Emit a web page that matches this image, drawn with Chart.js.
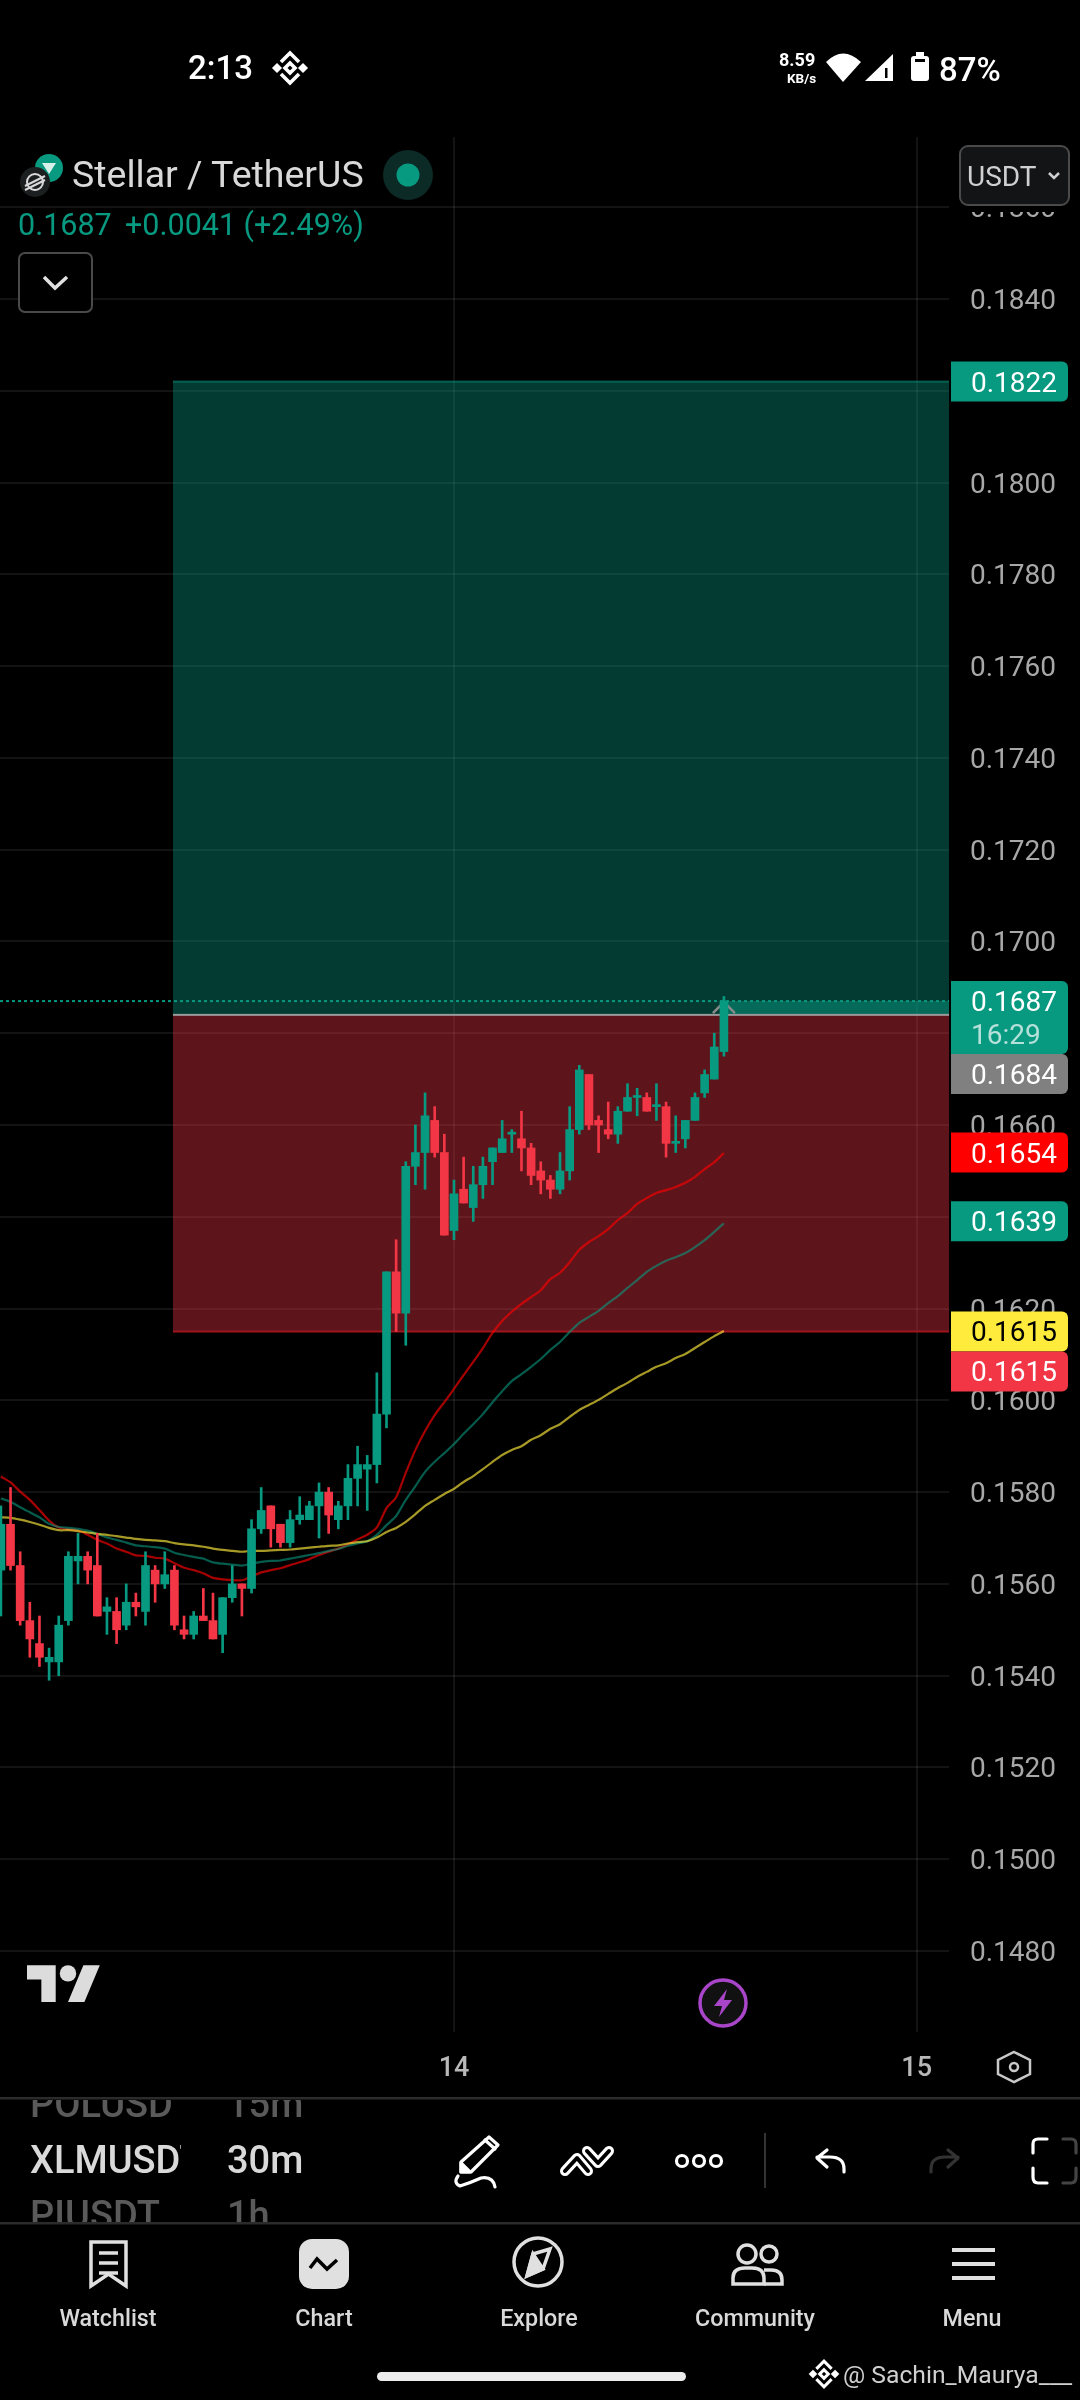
<!DOCTYPE html>
<html><head><meta charset="utf-8"><title>XLMUSDT</title>
<script src="https://cdn.jsdelivr.net/npm/chart.js@4"></script>
<style>
html,body{margin:0;padding:0;background:#000;width:1080px;height:2400px;overflow:hidden}
#wrap{position:relative;width:1080px;height:2400px}
canvas{position:absolute;left:0;top:0}
svg{position:absolute;left:0;top:0}
svg text{font-family:Roboto,sans-serif}
</style></head><body><div id="wrap"><canvas id="c" width="1080" height="2400"></canvas>
<svg width="1080" height="2400" viewBox="0 0 1080 2400">
<defs>
<g id="bnb" fill="none" stroke="#fff" stroke-width="3.6" stroke-linejoin="miter">
<polyline points="-9,-6 0,-15 9,-6"/><polyline points="-9,6 0,15 9,6"/>
<path d="M0,-5 L5,0 L0,5 L-5,0Z"/><path d="M-13,-2.5 L-10.5,0 L-13,2.5 L-15.5,0Z"/><path d="M13,-2.5 L15.5,0 L13,2.5 L10.5,0Z"/>
</g>
<clipPath id="clipPol"><rect x="0" y="2100" width="400" height="40"/></clipPath>
<clipPath id="clipPi"><rect x="0" y="2190" width="400" height="32"/></clipPath>
<clipPath id="clipSym"><rect x="0" y="2090" width="181" height="150"/></clipPath>
</defs>
<!-- status bar -->
<text x="188" y="79" font-size="33" font-weight="500" fill="#fff">2:13</text>
<use href="#bnb" x="290" y="68"/>
<text x="779" y="66" font-size="18" font-weight="700" fill="#fff">8.59</text>
<text x="787" y="83" font-size="13.500" font-weight="700" fill="#fff">KB/s</text>
<path d="M826 62 Q843 45 861 62 L843 82Z" fill="#fff"/>
<path d="M893 54V81H865Z" fill="#fff"/><rect x="885" y="68" width="2.500" height="10" fill="#000"/>
<rect x="911" y="56" width="18" height="25" rx="3" fill="#fff"/><rect x="916" y="52" width="8" height="5" fill="#fff"/><rect x="915" y="59" width="10" height="3" fill="#000"/>
<text x="939" y="81" font-size="33" font-weight="500" fill="#fff">87%</text>
<!-- header -->
<rect x="951" y="137" width="129" height="75" fill="#000"/>
<circle cx="49" cy="168" r="14" fill="#089981"/><path d="M42 163H56L49 174Z" fill="#d8f0ea"/>
<circle cx="35" cy="182" r="15" fill="#1c1f1f"/>
<g fill="none" stroke="#d9d9d9" stroke-width="2"><ellipse cx="35" cy="182" rx="8" ry="8"/><path d="M25 186L45 176M25 190L45 180"/></g>
<text x="72" y="187" font-size="37.500" fill="#d9d9d9">Stellar / TetherUS</text>
<circle cx="408" cy="175" r="25" fill="#0c2a26"/><circle cx="408" cy="175" r="11.500" fill="#089981"/>
<text x="18" y="235" font-size="30.500" fill="#089981">0.1687</text>
<text x="125" y="235" font-size="30.500" fill="#089981">+0.0041 (+2.49%)</text>
<rect x="19" y="253" width="73" height="59" rx="6" fill="#000" stroke="#4a4a4a" stroke-width="2"/>
<polyline points="44,277 55,288 67,277" fill="none" stroke="#e0e0e0" stroke-width="3.500"/>
<rect x="960" y="146" width="109" height="59" rx="8" fill="#131416" stroke="#4a4a4a" stroke-width="2"/>
<text x="967" y="186" font-size="28" fill="#d0d0d0">USDT</text>
<polyline points="1049,173 1054,178 1059,173" fill="none" stroke="#d0d0d0" stroke-width="2.500"/>
<!-- logo + flash -->
<g transform="translate(27,1957) scale(2.05)" fill="#dcdcdc"><path d="M14 22H7V11H0V4h14v18zM28 22h-8l7.500-18h8L28 22z"/><circle cx="20" cy="8" r="4"/></g>
<circle cx="723" cy="2003" r="23" fill="#111" stroke="#a845c9" stroke-width="3.500"/>
<path d="M727 1989L714 2006H722L719 2017L732 2000H724Z" fill="#a845c9"/>
<!-- settings -->
<path d="M1014 2052L1030 2060V2074L1014 2082L998 2074V2060Z" fill="none" stroke="#c8c8c8" stroke-width="2.500"/><circle cx="1014" cy="2067" r="4" fill="none" stroke="#c8c8c8" stroke-width="2.500"/>
<!-- toolbar -->
<rect x="0" y="2097" width="1080" height="2.500" fill="#2b2b2b"/>
<g clip-path="url(#clipPol)" font-size="38" font-weight="500" fill="#5a5a5a"><g clip-path="url(#clipSym)"><text x="30" y="2117">POLUSDT</text></g><text x="227" y="2117">15m</text></g>
<g font-size="38" font-weight="500" fill="#d9d9d9"><g clip-path="url(#clipSym)"><text x="30" y="2173">XLMUSDT</text></g><text x="227" y="2173">30m</text></g>
<g clip-path="url(#clipPi)" font-size="38" font-weight="500" fill="#5a5a5a"><g clip-path="url(#clipSym)"><text x="30" y="2228">PIUSDT</text></g><text x="227" y="2228">1h</text></g>
<g fill="none" stroke="#fff" stroke-width="3.200" stroke-linecap="round" stroke-linejoin="round">
<path d="M461 2162L489 2137L498 2145L471 2172H461Z"/><path d="M485 2140L495 2149"/><path d="M461 2163L470 2172H461Z" fill="#fff"/>
<path d="M458 2176Q453 2183 460 2186Q470 2183 481 2178Q493 2176 495 2187"/>
<polyline points="565,2171 577,2158 588,2171" stroke-width="10"/><polyline points="565,2171 577,2158 588,2171" stroke="#000" stroke-width="4"/>
<polyline points="587,2151 598,2163 609,2151" stroke-width="10"/><polyline points="587,2151 598,2163 609,2151" stroke="#000" stroke-width="4"/>
<circle cx="682" cy="2161" r="5.500"/><circle cx="699" cy="2161" r="5.500"/><circle cx="716" cy="2161" r="5.500"/>
<path d="M844 2172V2169Q844 2157 830 2157H817M827 2150L817 2158L827 2167"/>
<path d="M931 2172V2169Q931 2157 945 2157H958M948 2150L958 2158L948 2167" stroke="#333"/>
<path d="M1033 2153V2144Q1033 2139 1038 2139H1047M1033 2168V2177Q1033 2183 1038 2183H1047"/>
<path d="M1076 2153V2144Q1076 2139 1071 2139H1063M1076 2168V2177Q1076 2183 1071 2183H1063" stroke="#444"/>
</g>
<rect x="764" y="2133" width="2" height="55" fill="#333"/>
<rect x="0" y="2222" width="1080" height="2.500" fill="#2b2b2b"/>
<!-- nav -->
<g fill="none" stroke="#e0e0e0" stroke-width="3.500">
<path d="M91 2242H126V2286L108.500 2274L91 2286Z"/><path d="M99 2253H118M99 2263H118M99 2273H118"/>
<circle cx="538" cy="2262" r="24"/><path d="M527 2276L533 2254L550 2249L543 2269Z"/><path d="M527 2276L533 2254L543 2269Z" fill="#e0e0e0"/>
<circle cx="747" cy="2254" r="9"/><circle cx="769" cy="2254" r="8"/>
<path d="M733 2284V2278Q733 2268 745 2268H752Q764 2268 764 2278V2284Z"/><path d="M764 2270H771Q782 2270 782 2280V2284H764"/>
</g>
<rect x="299" y="2239" width="50" height="50" rx="13" fill="#e0e0e0"/><polyline points="310,2268 317,2259 327,2269 337,2260" fill="none" stroke="#000" stroke-width="3.500"/>
<g fill="#e0e0e0"><rect x="952" y="2248" width="43" height="4"/><rect x="952" y="2262" width="43" height="4"/><rect x="952" y="2276" width="43" height="4"/></g>
<g font-size="23.300" font-weight="500" fill="#d9d9d9" text-anchor="middle">
<text x="108" y="2326">Watchlist</text><text x="324" y="2326">Chart</text><text x="539" y="2326">Explore</text><text x="755" y="2326">Community</text><text x="972" y="2326">Menu</text></g>
<rect x="377" y="2372" width="309" height="9" rx="4.500" fill="#ececec"/>
<g transform="translate(824,2374) scale(0.85)"><use href="#bnb"/></g>
<text x="843" y="2383" font-size="24.700" fill="#d0d0d0">@ Sachin_Maurya___</text>
</svg></div>
<script>
// candle data (30m)
const opens  = [.1563,.1573,.1564,.1552,.1547,.1543,.1543,.1552,.1565,.1566,.1564,.1554,.1554,.1551,.1556,.1554,.1563,.1560,.1563,.1550,.1549,.1553,.1552,.1549,.1557,.1560,.1559,.1572,.1577,.1573,.1569,.1574,.1574,.1577,.1580,.1574,.1577,.1583,.1585,.1586,.1597,.1628,.1619,.1651,.1654,.1661,.1654,.1637,.1646,.1642,.1647,.1652,.1654,.1658,.1657,.1655,.1650,.1648,.1646,.1650,.1659,.1671,.1661,.1659,.1658,.1663,.1666,.1666,.1664,.1664,.1656,.1657,.1661,.1667,.1670,.1676];
const highs  = [.1577,.1581,.1567,.1556,.1553,.1546,.1553,.1567,.1571,.1567,.1571,.1557,.1557,.1560,.1558,.1567,.1564,.1567,.1564,.1553,.1554,.1559,.1558,.1557,.1564,.1560,.1574,.1581,.1577,.1573,.1576,.1579,.1578,.1582,.1581,.1578,.1586,.1590,.1588,.1606,.1628,.1635,.1652,.1660,.1667,.1664,.1658,.1648,.1653,.1651,.1653,.1655,.1661,.1659,.1663,.1656,.1652,.1649,.1654,.1664,.1673,.1671,.1662,.1665,.1664,.1669,.1668,.1667,.1669,.1665,.1662,.1661,.1667,.1672,.1680,.1688];
const lows   = [.1553,.1563,.1551,.1544,.1542,.1539,.1540,.1551,.1560,.1560,.1553,.1549,.1547,.1550,.1553,.1551,.1556,.1559,.1550,.1548,.1548,.1552,.1548,.1545,.1556,.1553,.1558,.1571,.1568,.1568,.1568,.1573,.1574,.1570,.1571,.1572,.1574,.1577,.1576,.1582,.1594,.1615,.1612,.1647,.1646,.1653,.1636,.1635,.1643,.1639,.1644,.1647,.1654,.1654,.1650,.1647,.1645,.1644,.1645,.1648,.1658,.1659,.1654,.1657,.1656,.1663,.1662,.1663,.1661,.1653,.1654,.1655,.1661,.1666,.1670,.1675];
const closes = [.1573,.1564,.1552,.1548,.1544,.1544,.1551,.1566,.1566,.1563,.1553,.1555,.1550,.1556,.1555,.1564,.1560,.1562,.1551,.1549,.1553,.1552,.1548,.1557,.1560,.1559,.1572,.1576,.1572,.1569,.1574,.1575,.1577,.1580,.1575,.1577,.1583,.1586,.1586,.1597,.1628,.1619,.1651,.1654,.1662,.1654,.1636,.1645,.1643,.1647,.1651,.1655,.1657,.1658,.1655,.1649,.1648,.1646,.1650,.1659,.1672,.1660,.1660,.1658,.1663,.1666,.1666,.1663,.1664,.1656,.1656,.1661,.1666,.1671,.1677,.1687];
// moving averages
const maRed = [.15834,.15821,.15801,.15783,.15761,.15738,.15723,.15719,.15717,.15707,.15696,.15688,.15677,.15670,.15662,.15661,.15657,.15655,.15645,.15635,.15630,.15623,.15613,.15610,.15608,.15608,.15616,.15625,.15630,.15634,.15641,.15647,.15654,.15663,.15670,.15677,.15686,.15697,.15707,.15723,.15765,.15789,.15842,.15892,.15933,.15968,.15996,.16025,.16055,.16084,.16114,.16147,.16173,.16193,.16210,.16225,.16240,.16264,.16278,.16301,.16328,.16345,.16358,.16373,.16393,.16408,.16428,.16441,.16452,.16458,.16465,.16474,.16487,.16504,.16519,.16539];
const maTeal = [.15786,.15779,.15767,.15756,.15745,.15731,.15724,.15722,.15720,.15716,.15709,.15701,.15696,.15690,.15684,.15682,.15680,.15677,.15668,.15663,.15659,.15655,.15647,.15644,.15642,.15640,.15644,.15648,.15650,.15651,.15655,.15659,.15663,.15667,.15672,.15676,.15683,.15688,.15693,.15707,.15728,.15748,.15783,.15813,.15844,.15866,.15885,.15905,.15927,.15948,.15970,.15996,.16020,.16042,.16057,.16073,.16090,.16110,.16127,.16149,.16169,.16182,.16195,.16212,.16227,.16245,.16262,.16280,.16293,.16304,.16312,.16321,.16334,.16349,.16367,.16386];
const maYellow = [.15745,.15744,.15740,.15735,.15729,.15722,.15717,.15717,.15715,.15712,.15709,.15707,.15704,.15701,.15698,.15696,.15695,.15693,.15689,.15686,.15684,.15681,.15677,.15674,.15672,.15670,.15672,.15672,.15673,.15674,.15675,.15677,.15679,.15681,.15683,.15684,.15688,.15691,.15693,.15701,.15713,.15722,.15735,.15752,.15770,.15783,.15796,.15807,.15822,.15835,.15850,.15866,.15881,.15892,.15900,.15914,.15924,.15938,.15948,.15964,.15979,.15990,.16001,.16014,.16027,.16038,.16051,.16062,.16073,.16081,.16092,.16101,.16114,.16127,.16140,.16151];
// axes
const priceTicks = [.148,.150,.152,.154,.156,.158,.160,.162,.164,.166,.168,.170,.172,.174,.176,.178,.180,.182,.184,.186];
const dayTickIndex = [47,95];
const dayTickLabels = ['14','15'];
// long-position drawing
const targetPrice = .1822, entryPrice = .1684, stopPrice = .1615, positionStartIndex = 17.85;
const lastPrice = .1687, lastIndex = 75;
const countdown = '16:29';
// price tags on the axis
const tagValues = [.1822,.1687,.1684,.1654,.1639,.1615,.1615];
const tagFills = ['#089981','#089981','#808080','#ff0000','#089981','#ffeb3b','#f23645'];
const tagInks = ['#fff','#fff','#fff','#fff','#fff','#000','#fff'];

const GREEN='#089981', RED='#f23645';
const idx = opens.map((_,i)=>i);
const candleColors = idx.map(i=> closes[i]>=opens[i] ? GREEN : RED);
const series = arr => arr.map((y,i)=>({x:i,y}));

const positionPlugin = {
  id:'position',
  beforeDatasetsDraw(ch){
    const {ctx,chartArea:a,scales:{x,y}} = ch;
    const L=x.getPixelForValue(positionStartIndex), R=a.right;
    const T=y.getPixelForValue(targetPrice), E=y.getPixelForValue(entryPrice), S=y.getPixelForValue(stopPrice), P=y.getPixelForValue(lastPrice);
    ctx.save();
    ctx.fillStyle='rgba(8,153,129,0.39)'; ctx.fillRect(L,T,R-L,E-T);
    ctx.fillStyle='rgba(242,54,69,0.385)'; ctx.fillRect(L,E,R-L,S-E);
    const lx=x.getPixelForValue(lastIndex);
    ctx.fillStyle='rgba(8,153,129,0.5)'; ctx.fillRect(lx,P,R-lx,E-P);
    ctx.fillStyle='rgba(8,153,129,0.55)'; ctx.fillRect(L,T-1,R-L,2);
    ctx.fillStyle='#a0151c'; ctx.fillRect(L,S-1,R-L,2);
    ctx.fillStyle='#9a9a9a'; ctx.fillRect(L,E-1,R-L,2);
    ctx.strokeStyle=GREEN; ctx.lineWidth=2; ctx.setLineDash([3,3]);
    ctx.beginPath(); ctx.moveTo(a.left,P); ctx.lineTo(R,P); ctx.stroke();
    ctx.setLineDash([]);
    ctx.strokeStyle='#8a8a8a'; ctx.lineWidth=2.5;
    ctx.beginPath(); ctx.moveTo(lx-11,P+12); ctx.lineTo(lx,P+1); ctx.lineTo(lx+11,P+12); ctx.stroke();
    ctx.restore();
  },
  afterDraw(ch){
    const {ctx,scales:{y}} = ch;
    ctx.save();
    ctx.font='28px Roboto'; ctx.textBaseline='middle'; ctx.textAlign='left';
    let bottom=-1e9;
    tagValues.forEach((v,i)=>{
      const p=y.getPixelForValue(v);
      let top=p-20; if(top<bottom) top=bottom;
      const two = v===lastPrice;
      const h= two?73:40;
      ctx.fillStyle=tagFills[i];
      ctx.beginPath(); ctx.roundRect(951,top,117,h,[0,6,6,0]); ctx.fill();
      ctx.fillStyle=tagInks[i];
      ctx.fillText(v.toFixed(4),971,top+23);
      if(two){ ctx.fillStyle='rgba(255,255,255,0.7)'; ctx.fillText(countdown,971,top+56); }
      bottom=top+h;
    });
    ctx.restore();
  }
};

Chart.defaults.font.family='Roboto';
new Chart(document.getElementById('c'),{
  type:'bar',
  data:{datasets:[
    {type:'line',data:series(maRed),borderColor:'rgba(255,0,0,0.65)',borderWidth:2.2,pointRadius:0,tension:.25,order:5},
    {type:'line',data:series(maTeal),borderColor:'rgba(8,153,129,0.6)',borderWidth:2.2,pointRadius:0,tension:.25,order:4},
    {type:'line',data:series(maYellow),borderColor:'rgba(255,235,59,0.65)',borderWidth:2.2,pointRadius:0,tension:.25,order:3},
    {type:'bar',data:idx.map(i=>({x:i,y:[lows[i],highs[i]]})),backgroundColor:candleColors,barThickness:2,grouped:false,order:2},
    {type:'bar',data:idx.map(i=>({x:i,y:[opens[i],closes[i]]})),backgroundColor:candleColors,barThickness:8,minBarLength:2,grouped:false,order:1}
  ]},
  options:{
    responsive:false,animation:false,devicePixelRatio:1,
    layout:{padding:{top:137,bottom:308,left:0,right:0}},
    plugins:{legend:{display:false},tooltip:{enabled:false}},
    scales:{
      x:{type:'linear',min:-0.0934,max:98.35,offset:false,
        grid:{color:'rgba(255,255,255,0.075)',lineWidth:2,drawTicks:false,offset:false},
        border:{display:false},
        afterBuildTicks:s=>{s.ticks=dayTickIndex.map(v=>({value:v}))},
        afterFit:s=>{s.height=60},
        ticks:{autoSkip:false,maxRotation:0,padding:21,color:'#b8b8b8',font:{size:27,weight:'500'},
          callback:v=>dayTickLabels[dayTickIndex.indexOf(v)]}},
      y:{type:'linear',position:'right',min:.146235,max:.18753,
        grid:{color:'rgba(255,255,255,0.075)',lineWidth:2,drawTicks:false},
        border:{display:false},
        afterBuildTicks:s=>{s.ticks=priceTicks.map(v=>({value:v}))},
        afterFit:s=>{s.width=131},
        ticks:{autoSkip:false,padding:21,labelOffset:3,color:'#a8a8a8',font:{size:28},callback:v=>v.toFixed(4)}}
    }
  },
  plugins:[positionPlugin]
});
</script></body></html>
